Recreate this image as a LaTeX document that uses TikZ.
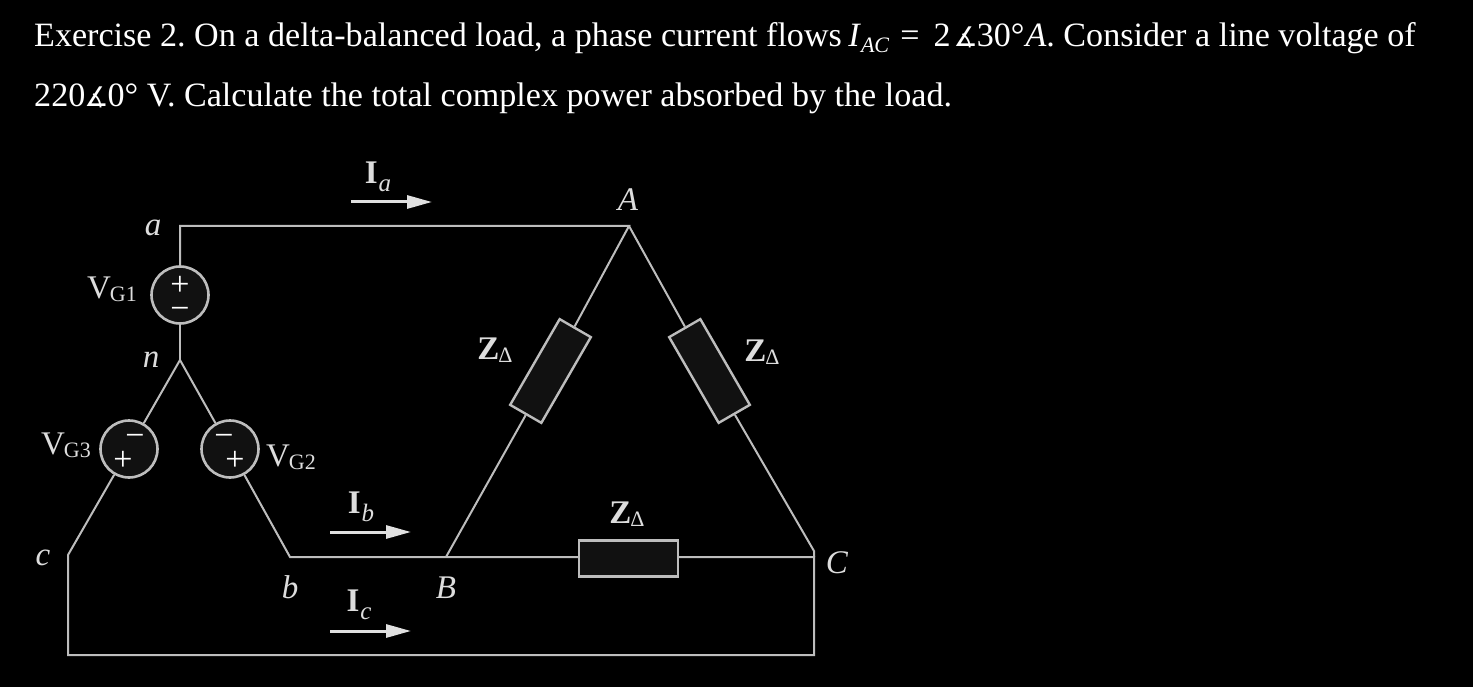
\documentclass[tikz,border=0pt]{standalone}
\usepackage{fontspec}
\setmainfont{Liberation Serif}
\newfontfamily\anglefont{DejaVu Sans}
\usetikzlibrary{arrows.meta, positioning}
\newcommand{\angsym}{{\fontsize{27}{27}\selectfont\anglefont\kern-1pt ∡\kern-1pt}}
\newcommand{\lsub}[1]{\raisebox{-6pt}{\fontsize{22}{22}\selectfont\textit{#1}}}
\newcommand{\vsub}[1]{\kern-1pt\raisebox{-3pt}{\fontsize{22}{22}\selectfont #1}}
\newcommand{\isub}[1]{\kern1pt\raisebox{-8pt}{\fontsize{25}{25}\selectfont\textit{#1}}}

\begin{document}
\begin{tikzpicture}[
  x=1pt, y=-1pt,
  wire/.style={draw=wirecol, line width=2pt},
  source/.style={circle, draw=wirecol, fill=boxcol, line width=2.6pt, minimum size=57pt, inner sep=0pt},
  load/.style={rectangle, draw=wirecol, fill=boxcol, line width=2.4pt, minimum width=99pt, minimum height=36pt, inner sep=0pt},
  current/.style={-{Triangle[length=25pt,width=13pt]}, draw=arrowcol, fill=arrowcol, line width=3pt},
  sign/.style={text=white, inner sep=0pt, font=\fontsize{34}{34}\selectfont},
  lbl/.style={text=labelcol, inner sep=0pt, font=\fontsize{33}{33}\selectfont},
  headline/.style={text=white, inner sep=0pt, anchor=base west, font=\frenchspacing\fontsize{34.1}{40}\selectfont}
]
\definecolor{wirecol}{HTML}{BDBDBD}
\definecolor{boxcol}{HTML}{111111}
\definecolor{arrowcol}{HTML}{E0E0E0}
\definecolor{labelcol}{HTML}{DDDDDD}

\fill[black] (0,0) rectangle (1473,687);
\useasboundingbox (0,0) rectangle (1473,687);

% statement
\node[headline] (line1) at (34,46.5) {Exercise 2. On a delta-balanced load, a phase current flows\kern-2pt\ \textit{I}\lsub{AC}\kern11pt=\kern14pt 2\kern4pt\angsym\kern0pt 30°\kern1pt\textit{A}. Consider a line voltage of};
\node[headline] (line2) at (34,106.5) {220\angsym0° V. Calculate the total complex power absorbed by the load.};

% junctions
\coordinate (a) at (180,226);
\coordinate (A) at (629,226);
\coordinate (n) at (180,360);
\coordinate (c) at (68,555);
\coordinate (b) at (290,557);
\coordinate (B) at (446,557);
\coordinate (C) at (814,551);
\coordinate (Cw) at (814,557);
\coordinate (cb) at (68,655);
\coordinate (Cb) at (814,655);

% sources
\node[source] (vg1) at (180,295) {};
\node[source] (vg3) at (129,449) {};
\node[source] (vg2) at (230,449) {};

% loads
\node[load, rotate=60] (zab) at (550.5,371) {};
\node[load, rotate=-60] (zac) at (709.5,371) {};
\node[load] (zbc) at (628.5,558.5) {};

\draw[wire] (vg1) -- (a) -- (A) -- (zab);
\draw[wire] (A) -- (zac);
\draw[wire] (vg1) -- (n);
\draw[wire] (n) -- (vg3);
\draw[wire] (n) -- (vg2);
\draw[wire] (vg2) -- (b) -- (B) -- (zbc.west |- B);
\draw[wire] (B) -- (zab);
\draw[wire] (zac) -- (C) -- (Cw);
\draw[wire] (zbc.east |- Cw) -- (Cw) -- (Cb) -- (cb) -- (c) -- (vg3);

% polarity
\node[sign] (p1) at (180,286) {+};
\node[sign] (m1) at (180,313) {\textminus};
\node[sign] (m3) at (135,440) {\textminus};
\node[sign] (p3) at (123,461) {+};
\node[sign] (m2) at (224,440) {\textminus};
\node[sign] (p2) at (235,461) {+};

% currents
\coordinate (ia1) at (351,202);
\coordinate (ia2) at (432,202);
\coordinate (ib1) at (330,532);
\coordinate (ib2) at (411,532);
\coordinate (ic1) at (330,631);
\coordinate (ic2) at (411,631);
\draw[current] (ia1) -- (ia2);
\draw[current] (ib1) -- (ib2);
\draw[current] (ic1) -- (ic2);

% labels
\node[lbl] (la) at (153,228) {\textit{a}};
\node[lbl] (ln) at (151,360) {\textit{n}};
\node[lbl] (lc) at (43,558) {\textit{c}};
\node[lbl] (lb) at (290,587) {\textit{b}};
\node[lbl] (lB) at (446,588) {\textit{B}};
\node[lbl] (lA) at (628,200) {\textit{A}};
\node[lbl] (lC) at (837,563) {\textit{C}};
\node[lbl] (lvg1) at (112,289) {V\vsub{G1}};
\node[lbl] (lvg3) at (66,445) {V\vsub{G3}};
\node[lbl] (lvg2) at (291,457) {V\vsub{G2}};
\node[lbl] (lia) at (378,177) {\textbf{I}\isub{a}};
\node[lbl] (lib) at (361,507) {\textbf{I}\isub{b}};
\node[lbl] (lic) at (359,605) {\textbf{I}\isub{c}};
\node[lbl] (lz1) at (495,350) {\textbf{Z}\vsub{Δ}};
\node[lbl] (lz2) at (762,352) {\textbf{Z}\vsub{Δ}};
\node[lbl] (lz3) at (627,514) {\textbf{Z}\vsub{Δ}};
\end{tikzpicture}
\end{document}
